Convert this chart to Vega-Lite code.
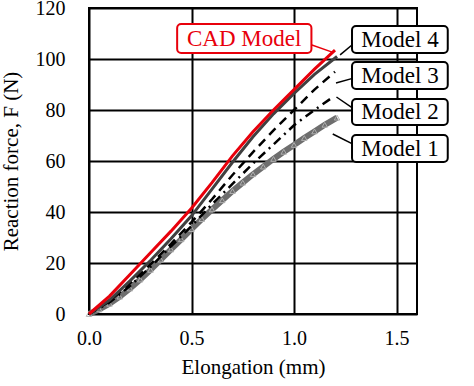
{
  "$schema": "https://vega.github.io/schema/vega-lite/v6.json",
  "width": 328,
  "height": 306,
  "autosize": "none",
  "padding": {"left": 89, "top": 8, "right": 57, "bottom": 72},
  "background": "white",
  "config": {
    "font": "Times New Roman, Liberation Serif, Tinos, DejaVu Serif, serif",
    "view": {"stroke": "black", "strokeWidth": 2},
    "axis": {
      "grid": true, "gridColor": "black", "gridWidth": 2, "gridOpacity": 1,
      "domain": false, "ticks": false, "labelFlush": false,
      "labelFont": "Times New Roman, Liberation Serif, Tinos, DejaVu Serif, serif", "labelFontSize": 20, "labelColor": "black",
      "titleFont": "Times New Roman, Liberation Serif, Tinos, DejaVu Serif, serif", "titleFontSize": 21, "titleColor": "black", "titleFontWeight": "normal"
    }
  },
  "datasets": {
    "curves": [
      {"model": "CAD Model", "x": 0, "y": 0}, {"model": "CAD Model", "x": 0.1, "y": 7}, {"model": "CAD Model", "x": 0.2, "y": 15.5}, {"model": "CAD Model", "x": 0.3, "y": 24}, {"model": "CAD Model", "x": 0.4, "y": 32.5}, {"model": "CAD Model", "x": 0.5, "y": 41.5}, {"model": "CAD Model", "x": 0.6, "y": 51.5}, {"model": "CAD Model", "x": 0.7, "y": 62}, {"model": "CAD Model", "x": 0.8, "y": 71.5}, {"model": "CAD Model", "x": 0.9, "y": 80}, {"model": "CAD Model", "x": 1.0, "y": 88}, {"model": "CAD Model", "x": 1.1, "y": 96}, {"model": "CAD Model", "x": 1.2, "y": 103.5},
      {"model": "Model 4", "x": 0, "y": 0}, {"model": "Model 4", "x": 0.1, "y": 5.5}, {"model": "Model 4", "x": 0.2, "y": 13}, {"model": "Model 4", "x": 0.3, "y": 21}, {"model": "Model 4", "x": 0.4, "y": 29.5}, {"model": "Model 4", "x": 0.5, "y": 38.5}, {"model": "Model 4", "x": 0.6, "y": 49}, {"model": "Model 4", "x": 0.7, "y": 59.5}, {"model": "Model 4", "x": 0.8, "y": 69.5}, {"model": "Model 4", "x": 0.9, "y": 78.5}, {"model": "Model 4", "x": 1.0, "y": 86.5}, {"model": "Model 4", "x": 1.1, "y": 94}, {"model": "Model 4", "x": 1.21, "y": 101},
      {"model": "Model 3", "x": 0, "y": 0}, {"model": "Model 3", "x": 0.1, "y": 5}, {"model": "Model 3", "x": 0.2, "y": 12}, {"model": "Model 3", "x": 0.3, "y": 19.5}, {"model": "Model 3", "x": 0.4, "y": 27.5}, {"model": "Model 3", "x": 0.5, "y": 36}, {"model": "Model 3", "x": 0.6, "y": 45}, {"model": "Model 3", "x": 0.7, "y": 54.5}, {"model": "Model 3", "x": 0.8, "y": 63.5}, {"model": "Model 3", "x": 0.9, "y": 72}, {"model": "Model 3", "x": 1.0, "y": 80}, {"model": "Model 3", "x": 1.1, "y": 88}, {"model": "Model 3", "x": 1.2, "y": 95},
      {"model": "Model 2", "x": 0, "y": 0}, {"model": "Model 2", "x": 0.1, "y": 4.5}, {"model": "Model 2", "x": 0.2, "y": 11}, {"model": "Model 2", "x": 0.3, "y": 18.5}, {"model": "Model 2", "x": 0.4, "y": 26.5}, {"model": "Model 2", "x": 0.5, "y": 34.5}, {"model": "Model 2", "x": 0.6, "y": 43}, {"model": "Model 2", "x": 0.7, "y": 51}, {"model": "Model 2", "x": 0.8, "y": 59}, {"model": "Model 2", "x": 0.9, "y": 66.5}, {"model": "Model 2", "x": 1.0, "y": 74}, {"model": "Model 2", "x": 1.1, "y": 80}, {"model": "Model 2", "x": 1.18, "y": 84.5},
      {"model": "Model 1", "x": 0, "y": 0}, {"model": "Model 1", "x": 0.05, "y": 1.8}, {"model": "Model 1", "x": 0.1, "y": 4}, {"model": "Model 1", "x": 0.15, "y": 6.8}, {"model": "Model 1", "x": 0.2, "y": 10}, {"model": "Model 1", "x": 0.25, "y": 13.5}, {"model": "Model 1", "x": 0.3, "y": 17.3}, {"model": "Model 1", "x": 0.35, "y": 21.3}, {"model": "Model 1", "x": 0.4, "y": 25.3}, {"model": "Model 1", "x": 0.45, "y": 29.3}, {"model": "Model 1", "x": 0.5, "y": 33.3}, {"model": "Model 1", "x": 0.55, "y": 37.2}, {"model": "Model 1", "x": 0.6, "y": 41}, {"model": "Model 1", "x": 0.65, "y": 44.6}, {"model": "Model 1", "x": 0.7, "y": 48.2}, {"model": "Model 1", "x": 0.75, "y": 51.5}, {"model": "Model 1", "x": 0.8, "y": 54.8}, {"model": "Model 1", "x": 0.85, "y": 57.8}, {"model": "Model 1", "x": 0.9, "y": 60.8}, {"model": "Model 1", "x": 0.95, "y": 63.6}, {"model": "Model 1", "x": 1.0, "y": 66.3}, {"model": "Model 1", "x": 1.05, "y": 69}, {"model": "Model 1", "x": 1.1, "y": 71.6}, {"model": "Model 1", "x": 1.15, "y": 74.2}, {"model": "Model 1", "x": 1.21, "y": 77}
    ],
    "boxes": [
      {"label": "CAD Model", "x": 0.43, "x2": 1.085, "y": 113.7, "y2": 102.4, "tx": 0.757, "ty": 108},
      {"label": "Model 4", "x": 1.283, "x2": 1.75, "y": 112.9, "y2": 102.4, "tx": 1.517, "ty": 107.6},
      {"label": "Model 3", "x": 1.283, "x2": 1.75, "y": 98.8, "y2": 88.2, "tx": 1.517, "ty": 93.5},
      {"label": "Model 2", "x": 1.283, "x2": 1.75, "y": 84.3, "y2": 74.1, "tx": 1.517, "ty": 79.2},
      {"label": "Model 1", "x": 1.283, "x2": 1.75, "y": 70.2, "y2": 59.6, "tx": 1.517, "ty": 64.9}
    ],
    "callouts": [
      {"label": "CAD Model", "x": 1.07, "y": 106, "x2": 1.19, "y2": 102.6},
      {"label": "Model 4", "x": 1.29, "y": 106, "x2": 1.225, "y2": 101.6},
      {"label": "Model 3", "x": 1.29, "y": 92.5, "x2": 1.205, "y2": 90.6},
      {"label": "Model 2", "x": 1.29, "y": 80.5, "x2": 1.207, "y2": 85.1},
      {"label": "Model 1", "x": 1.29, "y": 66.5, "x2": 1.189, "y2": 70.6}
    ]
  },
  "layer": [
    {
      "data": {"name": "curves"},
      "transform": [{"filter": "datum.model === 'Model 1'"}],
      "mark": {"type": "line", "color": "#6e6e6e", "strokeWidth": 6},
      "encoding": {
        "x": {"field": "x", "type": "quantitative", "scale": {"domain": [0, 1.5]}, "axis": {"values": [0, 0.5, 1, 1.5], "format": ".1f", "title": "Elongation (mm)", "labelPadding": 14, "titlePadding": 8}},
        "y": {"field": "y", "type": "quantitative", "scale": {"domain": [0, 120]}, "axis": {"values": [0, 20, 40, 60, 80, 100, 120], "title": "Reaction force, F (N)", "labelPadding": 24, "titlePadding": 14}}
      }
    },
    {
      "data": {"name": "curves"},
      "transform": [{"filter": "datum.model === 'Model 1'"}],
      "mark": {"type": "point", "shape": "triangle-up", "filled": false, "stroke": "#b0b0b0", "strokeWidth": 1, "size": 30, "opacity": 1},
      "encoding": {
        "x": {"field": "x", "type": "quantitative"},
        "y": {"field": "y", "type": "quantitative"}
      }
    },
    {
      "data": {"name": "curves"},
      "transform": [{"filter": "datum.model === 'Model 2'"}],
      "mark": {"type": "line", "color": "black", "strokeWidth": 2.5, "strokeDash": [9, 5, 2, 5]},
      "encoding": {
        "x": {"field": "x", "type": "quantitative"},
        "y": {"field": "y", "type": "quantitative"}
      }
    },
    {
      "data": {"name": "curves"},
      "transform": [{"filter": "datum.model === 'Model 3'"}],
      "mark": {"type": "line", "color": "black", "strokeWidth": 2.5, "strokeDash": [9, 6]},
      "encoding": {
        "x": {"field": "x", "type": "quantitative"},
        "y": {"field": "y", "type": "quantitative"}
      }
    },
    {
      "data": {"name": "curves"},
      "transform": [{"filter": "datum.model === 'Model 4'"}],
      "mark": {"type": "line", "color": "#404040", "strokeWidth": 3},
      "encoding": {
        "x": {"field": "x", "type": "quantitative"},
        "y": {"field": "y", "type": "quantitative"}
      }
    },
    {
      "data": {"name": "curves"},
      "transform": [{"filter": "datum.model === 'CAD Model'"}],
      "mark": {"type": "line", "color": "#e8000b", "strokeWidth": 3},
      "encoding": {
        "x": {"field": "x", "type": "quantitative"},
        "y": {"field": "y", "type": "quantitative"}
      }
    },
    {
      "data": {"name": "callouts"},
      "mark": {"type": "rule", "strokeWidth": 1.5, "clip": false},
      "encoding": {
        "x": {"field": "x", "type": "quantitative"},
        "y": {"field": "y", "type": "quantitative"},
        "x2": {"field": "x2"},
        "y2": {"field": "y2"},
        "color": {"condition": {"test": "datum.label === 'CAD Model'", "value": "#e8000b"}, "value": "black"}
      }
    },
    {
      "data": {"name": "boxes"},
      "mark": {"type": "rect", "fill": "white", "strokeWidth": 2, "cornerRadius": 4, "clip": false},
      "encoding": {
        "x": {"field": "x", "type": "quantitative"},
        "x2": {"field": "x2"},
        "y": {"field": "y", "type": "quantitative"},
        "y2": {"field": "y2"},
        "stroke": {"condition": {"test": "datum.label === 'CAD Model'", "value": "#e8000b"}, "value": "black"}
      }
    },
    {
      "data": {"name": "boxes"},
      "mark": {"type": "text", "font": "Times New Roman, Liberation Serif, Tinos, DejaVu Serif, serif", "fontSize": 23, "align": "center", "baseline": "middle", "clip": false},
      "encoding": {
        "x": {"field": "tx", "type": "quantitative"},
        "y": {"field": "ty", "type": "quantitative"},
        "text": {"field": "label"},
        "color": {"condition": {"test": "datum.label === 'CAD Model'", "value": "#e8000b"}, "value": "black"}
      }
    }
  ]
}
